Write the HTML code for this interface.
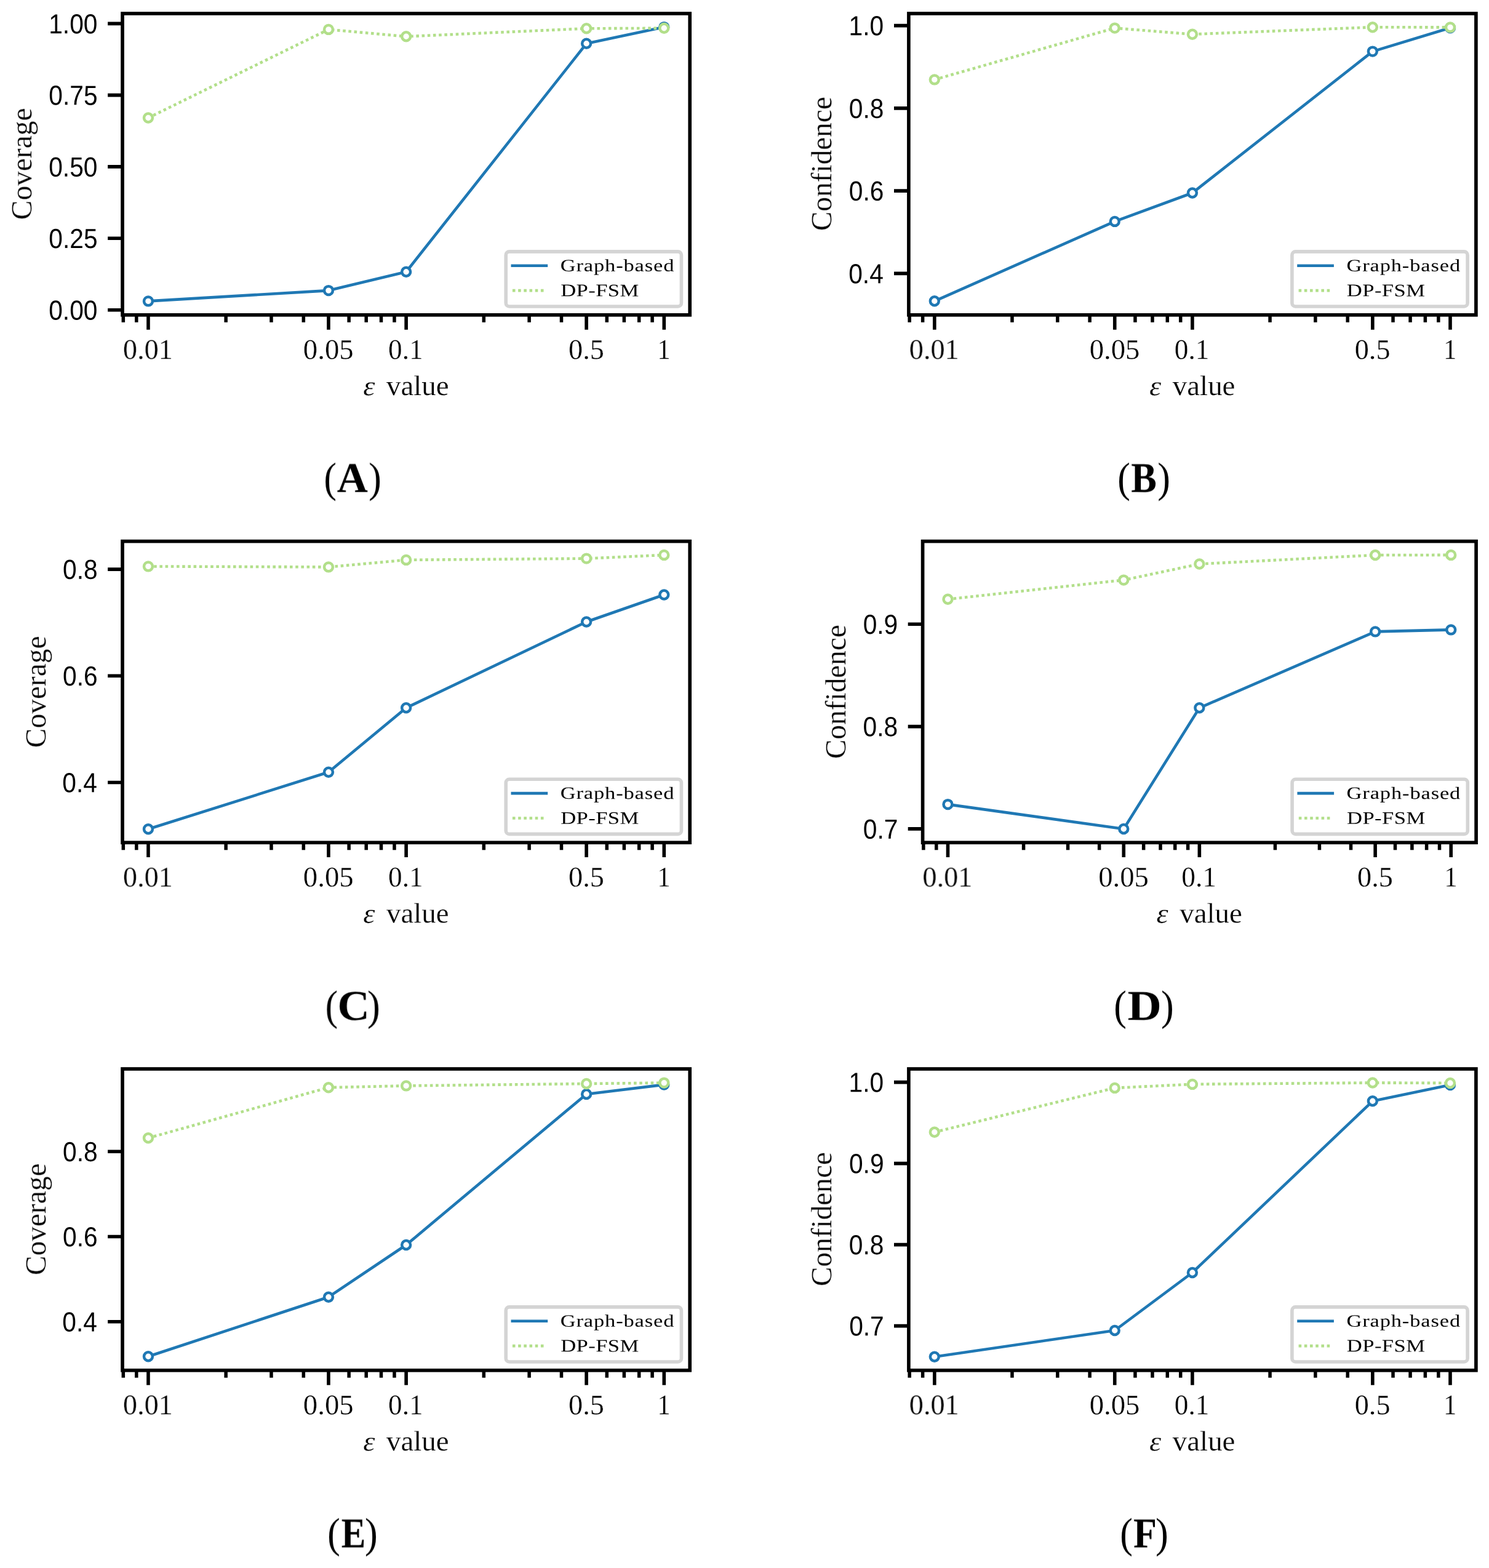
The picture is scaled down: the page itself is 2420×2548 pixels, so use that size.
<!DOCTYPE html>
<html lang="en">
<head>
<meta charset="utf-8">
<title>Coverage and confidence versus epsilon value</title>
<style>
html,body{margin:0;padding:0;background:#fff;}
body{width:2420px;height:2548px;overflow:hidden;}
svg{display:block;}
.axes path,.axes polyline,.axes rect{fill:none;}
.axes rect[fill]{fill:#fff;}
text{fill:#000;white-space:pre;}
.sans{font-family:"Liberation Sans",sans-serif;}
.serif{font-family:"Liberation Serif",serif;}
.it{font-style:italic;}
.b{font-weight:bold;}
.t1{stroke:#fff;stroke-width:0.25px;}
</style>
</head>
<body>
<svg xmlns="http://www.w3.org/2000/svg" width="2420" height="2548" viewBox="0 0 2420 2548" text-rendering="geometricPrecision">
<defs><filter id="soft" filterUnits="userSpaceOnUse" x="0" y="0" width="2420" height="2548" color-interpolation-filters="sRGB"><feGaussianBlur stdDeviation="0.3"/></filter></defs>
<rect width="2420" height="2548" fill="#fff"/>
<g filter="url(#soft)">
<!-- panel A -->
<g class="axes" id="panel-A">
<path d="M240.97 511.8v23.9M533.95 511.8v23.9M660.12 511.8v23.9M953.1 511.8v23.9M1079.28 511.8v23.9M199.05 38.4h-23.9M199.05 154.6h-23.9M199.05 270.9h-23.9M199.05 387.2h-23.9M199.05 503.7h-23.9" stroke="#000" stroke-width="5.6"/>
<path d="M200.35 511.8v12M221.79 511.8v12M367.15 511.8v12M440.96 511.8v12M493.32 511.8v12M567.14 511.8v12M595.2 511.8v12M619.5 511.8v12M640.95 511.8v12M786.3 511.8v12M860.11 511.8v12M912.48 511.8v12M986.29 511.8v12M1014.36 511.8v12M1038.66 511.8v12M1060.1 511.8v12" stroke="#000" stroke-width="5.5"/>
<polyline points="240.97,489.4 533.95,472.1 660.12,441.8 953.1,70.8 1079.28,44.1" stroke="#1f78b4" stroke-width="4.6" stroke-linejoin="round"/>
<g fill="#fff" stroke="#1f78b4" stroke-width="4.5">
<circle cx="240.97" cy="489.4" r="6.95"/>
<circle cx="533.95" cy="472.1" r="6.95"/>
<circle cx="660.12" cy="441.8" r="6.95"/>
<circle cx="953.1" cy="70.8" r="6.95"/>
<circle cx="1079.28" cy="44.1" r="6.95"/>
</g>
<polyline points="240.97,191.5 533.95,47.9 660.12,59.3 953.1,46.3 1079.28,45.8" stroke="#b2df8a" stroke-width="4.6" stroke-linejoin="round" stroke-dasharray="4.6 4.6"/>
<g fill="#fff" stroke="#b2df8a" stroke-width="4.5">
<circle cx="240.97" cy="191.5" r="6.95"/>
<circle cx="533.95" cy="47.9" r="6.95"/>
<circle cx="660.12" cy="59.3" r="6.95"/>
<circle cx="953.1" cy="46.3" r="6.95"/>
<circle cx="1079.28" cy="45.8" r="6.95"/>
</g>
<rect x="822.2" y="408.9" width="285.2" height="89.1" rx="5.5" fill="#fff" stroke="#d4d4d4" stroke-width="5.6"/>
<path d="M830.5 431.7h59.7" stroke="#1f78b4" stroke-width="4.6"/>
<path d="M832.9 472.1h54.9" stroke="#b2df8a" stroke-width="4.6" stroke-dasharray="4.6 4.6"/>
<rect x="199.05" y="22" width="922.15" height="489.8" stroke="#000" stroke-width="5.65"/>
</g>
<g class="labels">
<text class="serif" transform="translate(910.72 440.7) matrix(1.23 .0005 0 1 0 0)" font-size="28" letter-spacing="0.71">Graph-based</text>
<text class="serif" transform="translate(911.15 481.35) matrix(1.21 .0005 0 1 0 0)" font-size="28.6" letter-spacing="0.35">DP-FSM</text>
<text class="sans" transform="translate(79.17 54.15) matrix(0.909 .0005 0 1 0 0)" font-size="44.8">1.00</text>
<text class="sans" transform="translate(79.27 170.35) matrix(0.909 .0005 0 1 0 0)" font-size="44.8">0.75</text>
<text class="sans" transform="translate(79.17 286.65) matrix(0.909 .0005 0 1 0 0)" font-size="44.8">0.50</text>
<text class="sans" transform="translate(79.27 402.95) matrix(0.909 .0005 0 1 0 0)" font-size="44.8">0.25</text>
<text class="sans" transform="translate(79.17 519.45) matrix(0.909 .0005 0 1 0 0)" font-size="44.8">0.00</text>
<text class="serif t1" transform="translate(199.88 583.15) matrix(1.002 .0005 0 1 0 0)" font-size="46.2">0.01</text>
<text class="serif t1" transform="translate(492.84 583.15) matrix(1.012 .0005 0 1 0 0)" font-size="46.2">0.05</text>
<text class="serif t1" transform="translate(631.08 583.15) matrix(0.9804 .0005 0 1 0 0)" font-size="46.2">0.1</text>
<text class="serif t1" transform="translate(924.02 583.15) matrix(1.0006 .0005 0 1 0 0)" font-size="46.2">0.5</text>
<text class="serif t1" transform="translate(1068.29 583.15) matrix(0.9272 .0005 0 1 0 0)" font-size="46.2">1</text>
<text class="serif it t1" transform="translate(590.15 642.4) matrix(1.0726 .0005 0 1 0 0)" font-size="45.3">ε</text>
<text class="serif t1" transform="translate(628.02 641.9) matrix(1.0249 .0005 0 1 0 0)" font-size="45.8">value</text>
<text class="serif t1" transform="translate(50.95 266.2) rotate(-90) translate(-91 0) matrix(0.9984 .0005 0 1 0 0)" font-size="47.5">Coverage</text>
</g>
<text class="serif cap" transform="translate(528.9 799.5) matrix(1 .0005 0 1 0 0)" font-size="69"><tspan x="-2.62" textLength="20.56" lengthAdjust="spacingAndGlyphs">(</tspan><tspan class="b" x="18.8" textLength="50.19" lengthAdjust="spacingAndGlyphs">A</tspan><tspan x="70.28" textLength="20.69" lengthAdjust="spacingAndGlyphs">)</tspan></text>
<!-- panel B -->
<g class="axes" id="panel-B">
<path d="M1518.81 511.8v23.9M1811.74 511.8v23.9M1937.9 511.8v23.9M2230.83 511.8v23.9M2356.99 511.8v23.9M1476.9 41.6h-23.9M1476.9 175.9h-23.9M1476.9 310.1h-23.9M1476.9 444.4h-23.9" stroke="#000" stroke-width="5.6"/>
<path d="M1478.19 511.8v12M1499.63 511.8v12M1644.97 511.8v12M1718.77 511.8v12M1771.13 511.8v12M1844.93 511.8v12M1872.98 511.8v12M1897.29 511.8v12M1918.72 511.8v12M2064.06 511.8v12M2137.86 511.8v12M2190.22 511.8v12M2264.02 511.8v12M2292.07 511.8v12M2316.38 511.8v12M2337.81 511.8v12" stroke="#000" stroke-width="5.5"/>
<polyline points="1518.81,489.3 1811.74,359.9 1937.9,313.5 2230.83,83.6 2356.99,45.2" stroke="#1f78b4" stroke-width="4.6" stroke-linejoin="round"/>
<g fill="#fff" stroke="#1f78b4" stroke-width="4.5">
<circle cx="1518.81" cy="489.3" r="6.95"/>
<circle cx="1811.74" cy="359.9" r="6.95"/>
<circle cx="1937.9" cy="313.5" r="6.95"/>
<circle cx="2230.83" cy="83.6" r="6.95"/>
<circle cx="2356.99" cy="45.2" r="6.95"/>
</g>
<polyline points="1518.81,129.4 1811.74,45.6 1937.9,55.7 2230.83,44.2 2356.99,44.4" stroke="#b2df8a" stroke-width="4.6" stroke-linejoin="round" stroke-dasharray="4.6 4.6"/>
<g fill="#fff" stroke="#b2df8a" stroke-width="4.5">
<circle cx="1518.81" cy="129.4" r="6.95"/>
<circle cx="1811.74" cy="45.6" r="6.95"/>
<circle cx="1937.9" cy="55.7" r="6.95"/>
<circle cx="2230.83" cy="44.2" r="6.95"/>
<circle cx="2356.99" cy="44.4" r="6.95"/>
</g>
<rect x="2099.9" y="408.9" width="285.2" height="89.1" rx="5.5" fill="#fff" stroke="#d4d4d4" stroke-width="5.6"/>
<path d="M2108.2 431.7h59.7" stroke="#1f78b4" stroke-width="4.6"/>
<path d="M2110.6 472.1h54.9" stroke="#b2df8a" stroke-width="4.6" stroke-dasharray="4.6 4.6"/>
<rect x="1476.9" y="22" width="922" height="489.8" stroke="#000" stroke-width="5.65"/>
</g>
<g class="labels">
<text class="serif" transform="translate(2188.42 440.7) matrix(1.23 .0005 0 1 0 0)" font-size="28" letter-spacing="0.71">Graph-based</text>
<text class="serif" transform="translate(2188.85 481.35) matrix(1.21 .0005 0 1 0 0)" font-size="28.6" letter-spacing="0.35">DP-FSM</text>
<text class="sans" transform="translate(1379.62 57.35) matrix(0.909 .0005 0 1 0 0)" font-size="44.8">1.0</text>
<text class="sans" transform="translate(1379.83 191.65) matrix(0.909 .0005 0 1 0 0)" font-size="44.8">0.8</text>
<text class="sans" transform="translate(1379.83 325.85) matrix(0.909 .0005 0 1 0 0)" font-size="44.8">0.6</text>
<text class="sans" transform="translate(1379.21 460.15) matrix(0.909 .0005 0 1 0 0)" font-size="44.8">0.4</text>
<text class="serif t1" transform="translate(1477.72 583.15) matrix(1.002 .0005 0 1 0 0)" font-size="46.2">0.01</text>
<text class="serif t1" transform="translate(1770.64 583.15) matrix(1.012 .0005 0 1 0 0)" font-size="46.2">0.05</text>
<text class="serif t1" transform="translate(1908.85 583.15) matrix(0.9804 .0005 0 1 0 0)" font-size="46.2">0.1</text>
<text class="serif t1" transform="translate(2201.75 583.15) matrix(1.0006 .0005 0 1 0 0)" font-size="46.2">0.5</text>
<text class="serif t1" transform="translate(2345.99 583.15) matrix(0.9272 .0005 0 1 0 0)" font-size="46.2">1</text>
<text class="serif it t1" transform="translate(1867.93 642.4) matrix(1.0726 .0005 0 1 0 0)" font-size="45.3">ε</text>
<text class="serif t1" transform="translate(1905.8 641.9) matrix(1.0249 .0005 0 1 0 0)" font-size="45.8">value</text>
<text class="serif t1" transform="translate(1350.95 266.06) rotate(-90) translate(-109.09 0) matrix(0.9953 .0005 0 1 0 0)" font-size="47.5">Confidence</text>
</g>
<text class="serif cap" transform="translate(1819 799.5) matrix(1 .0005 0 1 0 0)" font-size="69"><tspan x="-2.64" textLength="20.69" lengthAdjust="spacingAndGlyphs">(</tspan><tspan class="b" x="19.31" textLength="41.57" lengthAdjust="spacingAndGlyphs">B</tspan><tspan x="62.18" textLength="20.69" lengthAdjust="spacingAndGlyphs">)</tspan></text>
<!-- panel C -->
<g class="axes" id="panel-C">
<path d="M240.97 1369.2v23.9M533.95 1369.2v23.9M660.12 1369.2v23.9M953.1 1369.2v23.9M1079.28 1369.2v23.9M199.05 925.1h-23.9M199.05 1098.3h-23.9M199.05 1271.5h-23.9" stroke="#000" stroke-width="5.6"/>
<path d="M200.35 1369.2v12M221.79 1369.2v12M367.15 1369.2v12M440.96 1369.2v12M493.32 1369.2v12M567.14 1369.2v12M595.2 1369.2v12M619.5 1369.2v12M640.95 1369.2v12M786.3 1369.2v12M860.11 1369.2v12M912.48 1369.2v12M986.29 1369.2v12M1014.36 1369.2v12M1038.66 1369.2v12M1060.1 1369.2v12" stroke="#000" stroke-width="5.5"/>
<polyline points="240.97,1347.2 533.95,1254.8 660.12,1150.3 953.1,1010.5 1079.28,966.5" stroke="#1f78b4" stroke-width="4.6" stroke-linejoin="round"/>
<g fill="#fff" stroke="#1f78b4" stroke-width="4.5">
<circle cx="240.97" cy="1347.2" r="6.95"/>
<circle cx="533.95" cy="1254.8" r="6.95"/>
<circle cx="660.12" cy="1150.3" r="6.95"/>
<circle cx="953.1" cy="1010.5" r="6.95"/>
<circle cx="1079.28" cy="966.5" r="6.95"/>
</g>
<polyline points="240.97,920.4 533.95,921.4 660.12,909.9 953.1,907.6 1079.28,901.9" stroke="#b2df8a" stroke-width="4.6" stroke-linejoin="round" stroke-dasharray="4.6 4.6"/>
<g fill="#fff" stroke="#b2df8a" stroke-width="4.5">
<circle cx="240.97" cy="920.4" r="6.95"/>
<circle cx="533.95" cy="921.4" r="6.95"/>
<circle cx="660.12" cy="909.9" r="6.95"/>
<circle cx="953.1" cy="907.6" r="6.95"/>
<circle cx="1079.28" cy="901.9" r="6.95"/>
</g>
<rect x="822.2" y="1266.3" width="285.2" height="89.1" rx="5.5" fill="#fff" stroke="#d4d4d4" stroke-width="5.6"/>
<path d="M830.5 1289.1h59.7" stroke="#1f78b4" stroke-width="4.6"/>
<path d="M832.9 1329.5h54.9" stroke="#b2df8a" stroke-width="4.6" stroke-dasharray="4.6 4.6"/>
<rect x="199.05" y="879.6" width="922.15" height="489.6" stroke="#000" stroke-width="5.65"/>
</g>
<g class="labels">
<text class="serif" transform="translate(910.72 1298.1) matrix(1.23 .0005 0 1 0 0)" font-size="28" letter-spacing="0.71">Graph-based</text>
<text class="serif" transform="translate(911.15 1338.75) matrix(1.21 .0005 0 1 0 0)" font-size="28.6" letter-spacing="0.35">DP-FSM</text>
<text class="sans" transform="translate(101.98 940.85) matrix(0.909 .0005 0 1 0 0)" font-size="44.8">0.8</text>
<text class="sans" transform="translate(101.98 1114.05) matrix(0.909 .0005 0 1 0 0)" font-size="44.8">0.6</text>
<text class="sans" transform="translate(101.36 1287.25) matrix(0.909 .0005 0 1 0 0)" font-size="44.8">0.4</text>
<text class="serif t1" transform="translate(199.88 1440.55) matrix(1.002 .0005 0 1 0 0)" font-size="46.2">0.01</text>
<text class="serif t1" transform="translate(492.84 1440.55) matrix(1.012 .0005 0 1 0 0)" font-size="46.2">0.05</text>
<text class="serif t1" transform="translate(631.08 1440.55) matrix(0.9804 .0005 0 1 0 0)" font-size="46.2">0.1</text>
<text class="serif t1" transform="translate(924.02 1440.55) matrix(1.0006 .0005 0 1 0 0)" font-size="46.2">0.5</text>
<text class="serif t1" transform="translate(1068.29 1440.55) matrix(0.9272 .0005 0 1 0 0)" font-size="46.2">1</text>
<text class="serif it t1" transform="translate(590.15 1499.8) matrix(1.0726 .0005 0 1 0 0)" font-size="45.3">ε</text>
<text class="serif t1" transform="translate(628.02 1499.3) matrix(1.0249 .0005 0 1 0 0)" font-size="45.8">value</text>
<text class="serif t1" transform="translate(74 1124.15) rotate(-90) translate(-91 0) matrix(0.9984 .0005 0 1 0 0)" font-size="47.5">Coverage</text>
</g>
<text class="serif cap" transform="translate(531.2 1657.3) matrix(1 .0005 0 1 0 0)" font-size="69"><tspan x="-2.61" textLength="20.43" lengthAdjust="spacingAndGlyphs">(</tspan><tspan class="b" x="17.16" textLength="52.34" lengthAdjust="spacingAndGlyphs">C</tspan><tspan x="65.77" textLength="20.82" lengthAdjust="spacingAndGlyphs">)</tspan></text>
<!-- panel D -->
<g class="axes" id="panel-D">
<path d="M1540.49 1369.2v23.9M1826.27 1369.2v23.9M1949.35 1369.2v23.9M2235.13 1369.2v23.9M2358.21 1369.2v23.9M1499.6 1014.2h-23.9M1499.6 1180.6h-23.9M1499.6 1346.9h-23.9" stroke="#000" stroke-width="5.6"/>
<path d="M1500.86 1369.2v12M1521.78 1369.2v12M1663.57 1369.2v12M1735.56 1369.2v12M1786.65 1369.2v12M1858.64 1369.2v12M1886.02 1369.2v12M1909.73 1369.2v12M1930.64 1369.2v12M2072.43 1369.2v12M2144.43 1369.2v12M2195.51 1369.2v12M2267.51 1369.2v12M2294.88 1369.2v12M2318.59 1369.2v12M2339.51 1369.2v12" stroke="#000" stroke-width="5.5"/>
<polyline points="1540.49,1307.1 1826.27,1347 1949.35,1150.3 2235.13,1026.4 2358.21,1023.4" stroke="#1f78b4" stroke-width="4.6" stroke-linejoin="round"/>
<g fill="#fff" stroke="#1f78b4" stroke-width="4.5">
<circle cx="1540.49" cy="1307.1" r="6.95"/>
<circle cx="1826.27" cy="1347" r="6.95"/>
<circle cx="1949.35" cy="1150.3" r="6.95"/>
<circle cx="2235.13" cy="1026.4" r="6.95"/>
<circle cx="2358.21" cy="1023.4" r="6.95"/>
</g>
<polyline points="1540.49,973.7 1826.27,942.6 1949.35,916.5 2235.13,902 2358.21,901.9" stroke="#b2df8a" stroke-width="4.6" stroke-linejoin="round" stroke-dasharray="4.6 4.6"/>
<g fill="#fff" stroke="#b2df8a" stroke-width="4.5">
<circle cx="1540.49" cy="973.7" r="6.95"/>
<circle cx="1826.27" cy="942.6" r="6.95"/>
<circle cx="1949.35" cy="916.5" r="6.95"/>
<circle cx="2235.13" cy="902" r="6.95"/>
<circle cx="2358.21" cy="901.9" r="6.95"/>
</g>
<rect x="2100.1" y="1266.3" width="285.2" height="89.1" rx="5.5" fill="#fff" stroke="#d4d4d4" stroke-width="5.6"/>
<path d="M2108.4 1289.1h59.7" stroke="#1f78b4" stroke-width="4.6"/>
<path d="M2110.8 1329.5h54.9" stroke="#b2df8a" stroke-width="4.6" stroke-dasharray="4.6 4.6"/>
<rect x="1499.6" y="879.6" width="899.5" height="489.6" stroke="#000" stroke-width="5.65"/>
</g>
<g class="labels">
<text class="serif" transform="translate(2188.62 1298.1) matrix(1.23 .0005 0 1 0 0)" font-size="28" letter-spacing="0.71">Graph-based</text>
<text class="serif" transform="translate(2189.05 1338.75) matrix(1.21 .0005 0 1 0 0)" font-size="28.6" letter-spacing="0.35">DP-FSM</text>
<text class="sans" transform="translate(1402.63 1029.95) matrix(0.909 .0005 0 1 0 0)" font-size="44.8">0.9</text>
<text class="sans" transform="translate(1402.53 1196.35) matrix(0.909 .0005 0 1 0 0)" font-size="44.8">0.8</text>
<text class="sans" transform="translate(1402.83 1362.65) matrix(0.909 .0005 0 1 0 0)" font-size="44.8">0.7</text>
<text class="serif t1" transform="translate(1499.4 1440.55) matrix(1.002 .0005 0 1 0 0)" font-size="46.2">0.01</text>
<text class="serif t1" transform="translate(1785.17 1440.55) matrix(1.012 .0005 0 1 0 0)" font-size="46.2">0.05</text>
<text class="serif t1" transform="translate(1920.3 1440.55) matrix(0.9804 .0005 0 1 0 0)" font-size="46.2">0.1</text>
<text class="serif t1" transform="translate(2206.05 1440.55) matrix(1.0006 .0005 0 1 0 0)" font-size="46.2">0.5</text>
<text class="serif t1" transform="translate(2347.22 1440.55) matrix(0.9272 .0005 0 1 0 0)" font-size="46.2">1</text>
<text class="serif it t1" transform="translate(1879.38 1499.8) matrix(1.0726 .0005 0 1 0 0)" font-size="45.3">ε</text>
<text class="serif t1" transform="translate(1917.25 1499.3) matrix(1.0249 .0005 0 1 0 0)" font-size="45.8">value</text>
<text class="serif t1" transform="translate(1374 1124.03) rotate(-90) translate(-109.09 0) matrix(0.9953 .0005 0 1 0 0)" font-size="47.5">Confidence</text>
</g>
<text class="serif cap" transform="translate(1813 1657.3) matrix(1 .0005 0 1 0 0)" font-size="69"><tspan x="-2.64" textLength="20.69" lengthAdjust="spacingAndGlyphs">(</tspan><tspan class="b" x="19.56" textLength="55.35" lengthAdjust="spacingAndGlyphs">D</tspan><tspan x="73.88" textLength="20.69" lengthAdjust="spacingAndGlyphs">)</tspan></text>
<!-- panel E -->
<g class="axes" id="panel-E">
<path d="M240.97 2226.8v23.9M533.95 2226.8v23.9M660.12 2226.8v23.9M953.1 2226.8v23.9M1079.28 2226.8v23.9M199.05 1871.2h-23.9M199.05 2009.5h-23.9M199.05 2147.8h-23.9" stroke="#000" stroke-width="5.6"/>
<path d="M200.35 2226.8v12M221.79 2226.8v12M367.15 2226.8v12M440.96 2226.8v12M493.32 2226.8v12M567.14 2226.8v12M595.2 2226.8v12M619.5 2226.8v12M640.95 2226.8v12M786.3 2226.8v12M860.11 2226.8v12M912.48 2226.8v12M986.29 2226.8v12M1014.36 2226.8v12M1038.66 2226.8v12M1060.1 2226.8v12" stroke="#000" stroke-width="5.5"/>
<polyline points="240.97,2204.3 533.95,2107.7 660.12,2023 953.1,1778 1079.28,1762.6" stroke="#1f78b4" stroke-width="4.6" stroke-linejoin="round"/>
<g fill="#fff" stroke="#1f78b4" stroke-width="4.5">
<circle cx="240.97" cy="2204.3" r="6.95"/>
<circle cx="533.95" cy="2107.7" r="6.95"/>
<circle cx="660.12" cy="2023" r="6.95"/>
<circle cx="953.1" cy="1778" r="6.95"/>
<circle cx="1079.28" cy="1762.6" r="6.95"/>
</g>
<polyline points="240.97,1849.3 533.95,1767.2 660.12,1764.4 953.1,1761 1079.28,1759.6" stroke="#b2df8a" stroke-width="4.6" stroke-linejoin="round" stroke-dasharray="4.6 4.6"/>
<g fill="#fff" stroke="#b2df8a" stroke-width="4.5">
<circle cx="240.97" cy="1849.3" r="6.95"/>
<circle cx="533.95" cy="1767.2" r="6.95"/>
<circle cx="660.12" cy="1764.4" r="6.95"/>
<circle cx="953.1" cy="1761" r="6.95"/>
<circle cx="1079.28" cy="1759.6" r="6.95"/>
</g>
<rect x="822.2" y="2123.9" width="285.2" height="89.1" rx="5.5" fill="#fff" stroke="#d4d4d4" stroke-width="5.6"/>
<path d="M830.5 2146.7h59.7" stroke="#1f78b4" stroke-width="4.6"/>
<path d="M832.9 2187.1h54.9" stroke="#b2df8a" stroke-width="4.6" stroke-dasharray="4.6 4.6"/>
<rect x="199.05" y="1737" width="922.15" height="489.8" stroke="#000" stroke-width="5.65"/>
</g>
<g class="labels">
<text class="serif" transform="translate(910.72 2155.7) matrix(1.23 .0005 0 1 0 0)" font-size="28" letter-spacing="0.71">Graph-based</text>
<text class="serif" transform="translate(911.15 2196.35) matrix(1.21 .0005 0 1 0 0)" font-size="28.6" letter-spacing="0.35">DP-FSM</text>
<text class="sans" transform="translate(101.98 1886.95) matrix(0.909 .0005 0 1 0 0)" font-size="44.8">0.8</text>
<text class="sans" transform="translate(101.98 2025.25) matrix(0.909 .0005 0 1 0 0)" font-size="44.8">0.6</text>
<text class="sans" transform="translate(101.36 2163.55) matrix(0.909 .0005 0 1 0 0)" font-size="44.8">0.4</text>
<text class="serif t1" transform="translate(199.88 2298.15) matrix(1.002 .0005 0 1 0 0)" font-size="46.2">0.01</text>
<text class="serif t1" transform="translate(492.84 2298.15) matrix(1.012 .0005 0 1 0 0)" font-size="46.2">0.05</text>
<text class="serif t1" transform="translate(631.08 2298.15) matrix(0.9804 .0005 0 1 0 0)" font-size="46.2">0.1</text>
<text class="serif t1" transform="translate(924.02 2298.15) matrix(1.0006 .0005 0 1 0 0)" font-size="46.2">0.5</text>
<text class="serif t1" transform="translate(1068.29 2298.15) matrix(0.9272 .0005 0 1 0 0)" font-size="46.2">1</text>
<text class="serif it t1" transform="translate(590.15 2357.4) matrix(1.0726 .0005 0 1 0 0)" font-size="45.3">ε</text>
<text class="serif t1" transform="translate(628.02 2356.9) matrix(1.0249 .0005 0 1 0 0)" font-size="45.8">value</text>
<text class="serif t1" transform="translate(74 1981.2) rotate(-90) translate(-91 0) matrix(0.9984 .0005 0 1 0 0)" font-size="47.5">Coverage</text>
</g>
<text class="serif cap" transform="translate(534.9 2514.5) matrix(1 .0005 0 1 0 0)" font-size="69"><tspan x="-2.64" textLength="20.69" lengthAdjust="spacingAndGlyphs">(</tspan><tspan class="b" x="19.66" textLength="39.63" lengthAdjust="spacingAndGlyphs">E</tspan><tspan x="58.07" textLength="20.82" lengthAdjust="spacingAndGlyphs">)</tspan></text>
<!-- panel F -->
<g class="axes" id="panel-F">
<path d="M1518.81 2226.8v23.9M1811.74 2226.8v23.9M1937.9 2226.8v23.9M2230.83 2226.8v23.9M2356.99 2226.8v23.9M1476.9 1758.6h-23.9M1476.9 1890.6h-23.9M1476.9 2022.6h-23.9M1476.9 2154.6h-23.9" stroke="#000" stroke-width="5.6"/>
<path d="M1478.19 2226.8v12M1499.63 2226.8v12M1644.97 2226.8v12M1718.77 2226.8v12M1771.13 2226.8v12M1844.93 2226.8v12M1872.98 2226.8v12M1897.29 2226.8v12M1918.72 2226.8v12M2064.06 2226.8v12M2137.86 2226.8v12M2190.22 2226.8v12M2264.02 2226.8v12M2292.07 2226.8v12M2316.38 2226.8v12M2337.81 2226.8v12" stroke="#000" stroke-width="5.5"/>
<polyline points="1518.81,2204.7 1811.74,2162 1937.9,2068 2230.83,1789.3 2356.99,1763.1" stroke="#1f78b4" stroke-width="4.6" stroke-linejoin="round"/>
<g fill="#fff" stroke="#1f78b4" stroke-width="4.5">
<circle cx="1518.81" cy="2204.7" r="6.95"/>
<circle cx="1811.74" cy="2162" r="6.95"/>
<circle cx="1937.9" cy="2068" r="6.95"/>
<circle cx="2230.83" cy="1789.3" r="6.95"/>
<circle cx="2356.99" cy="1763.1" r="6.95"/>
</g>
<polyline points="1518.81,1839.7 1811.74,1767.9 1937.9,1761.9 2230.83,1759.5 2356.99,1760" stroke="#b2df8a" stroke-width="4.6" stroke-linejoin="round" stroke-dasharray="4.6 4.6"/>
<g fill="#fff" stroke="#b2df8a" stroke-width="4.5">
<circle cx="1518.81" cy="1839.7" r="6.95"/>
<circle cx="1811.74" cy="1767.9" r="6.95"/>
<circle cx="1937.9" cy="1761.9" r="6.95"/>
<circle cx="2230.83" cy="1759.5" r="6.95"/>
<circle cx="2356.99" cy="1760" r="6.95"/>
</g>
<rect x="2099.9" y="2123.9" width="285.2" height="89.1" rx="5.5" fill="#fff" stroke="#d4d4d4" stroke-width="5.6"/>
<path d="M2108.2 2146.7h59.7" stroke="#1f78b4" stroke-width="4.6"/>
<path d="M2110.6 2187.1h54.9" stroke="#b2df8a" stroke-width="4.6" stroke-dasharray="4.6 4.6"/>
<rect x="1476.9" y="1737" width="922" height="489.8" stroke="#000" stroke-width="5.65"/>
</g>
<g class="labels">
<text class="serif" transform="translate(2188.42 2155.7) matrix(1.23 .0005 0 1 0 0)" font-size="28" letter-spacing="0.71">Graph-based</text>
<text class="serif" transform="translate(2188.85 2196.35) matrix(1.21 .0005 0 1 0 0)" font-size="28.6" letter-spacing="0.35">DP-FSM</text>
<text class="sans" transform="translate(1379.62 1774.35) matrix(0.909 .0005 0 1 0 0)" font-size="44.8">1.0</text>
<text class="sans" transform="translate(1379.93 1906.35) matrix(0.909 .0005 0 1 0 0)" font-size="44.8">0.9</text>
<text class="sans" transform="translate(1379.83 2038.35) matrix(0.909 .0005 0 1 0 0)" font-size="44.8">0.8</text>
<text class="sans" transform="translate(1380.13 2170.35) matrix(0.909 .0005 0 1 0 0)" font-size="44.8">0.7</text>
<text class="serif t1" transform="translate(1477.72 2298.15) matrix(1.002 .0005 0 1 0 0)" font-size="46.2">0.01</text>
<text class="serif t1" transform="translate(1770.64 2298.15) matrix(1.012 .0005 0 1 0 0)" font-size="46.2">0.05</text>
<text class="serif t1" transform="translate(1908.85 2298.15) matrix(0.9804 .0005 0 1 0 0)" font-size="46.2">0.1</text>
<text class="serif t1" transform="translate(2201.75 2298.15) matrix(1.0006 .0005 0 1 0 0)" font-size="46.2">0.5</text>
<text class="serif t1" transform="translate(2345.99 2298.15) matrix(0.9272 .0005 0 1 0 0)" font-size="46.2">1</text>
<text class="serif it t1" transform="translate(1867.93 2357.4) matrix(1.0726 .0005 0 1 0 0)" font-size="45.3">ε</text>
<text class="serif t1" transform="translate(1905.8 2356.9) matrix(1.0249 .0005 0 1 0 0)" font-size="45.8">value</text>
<text class="serif t1" transform="translate(1350.95 1981.07) rotate(-90) translate(-109.09 0) matrix(0.9953 .0005 0 1 0 0)" font-size="47.5">Confidence</text>
</g>
<text class="serif cap" transform="translate(1823 2514.5) matrix(1 .0005 0 1 0 0)" font-size="69"><tspan x="-2.64" textLength="20.69" lengthAdjust="spacingAndGlyphs">(</tspan><tspan class="b" x="18.91" textLength="38" lengthAdjust="spacingAndGlyphs">F</tspan><tspan x="54.97" textLength="20.82" lengthAdjust="spacingAndGlyphs">)</tspan></text>
</g>
</svg>
</body>
</html>
